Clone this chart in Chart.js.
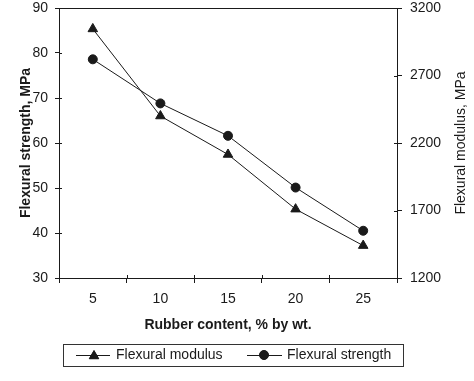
<!DOCTYPE html>
<html>
<head>
<meta charset="utf-8">
<script src="https://cdn.jsdelivr.net/npm/chart.js@4/dist/chart.umd.min.js"></script>
<style>
html,body{margin:0;padding:0;background:#fff;}
#wrap{width:474px;height:381px;position:relative;}
</style>
</head>
<body>
<div id="wrap"><canvas id="c" width="474" height="381"></canvas></div>
<script>
const categories = ['5', '10', '15', '20', '25'];
const flexuralModulus = [3045, 2400, 2115, 1710, 1440];
const flexuralStrength = [78.6, 68.8, 61.6, 50.1, 40.5];
const leftTitle = 'Flexural strength, MPa';
const rightTitle = 'Flexural modulus, MPa';
const xTitle = 'Rubber content, % by wt.';
const seriesNames = ['Flexural modulus', 'Flexural strength'];

const FONT = 'Arial, "Liberation Sans", Helvetica, sans-serif';
const INK = '#1a1a1a';

const extras = {
  id: 'extras',
  afterDraw(chart) {
    const ctx = chart.ctx;
    const a = chart.chartArea;
    ctx.save();
    ctx.strokeStyle = INK;
    ctx.lineWidth = 1;
    // top border
    ctx.beginPath();
    ctx.moveTo(a.left, Math.round(a.top) + 0.5);
    ctx.lineTo(a.right, Math.round(a.top) + 0.5);
    ctx.stroke();
    // inside tick marks
    const ys = chart.scales.y, y1 = chart.scales.y1;
    ctx.beginPath();
    ys.ticks.forEach((t, i) => { const p = Math.round(ys.getPixelForTick(i)) + 0.5; ctx.moveTo(a.left, p); ctx.lineTo(a.left + 3, p); });
    y1.ticks.forEach((t, i) => { const p = Math.round(y1.getPixelForTick(i)) + 0.5; ctx.moveTo(a.right, p); ctx.lineTo(a.right - 3, p); });
    for (let i = 0; i <= categories.length; i++) {
      const p = Math.round(a.left + (a.right - a.left) * i / categories.length) + 0.5;
      ctx.moveTo(p, a.bottom); ctx.lineTo(p, a.bottom - 3);
    }
    ctx.stroke();
    // right title (reads bottom to top)
    ctx.fillStyle = INK;
    ctx.font = '14px ' + FONT;
    ctx.textAlign = 'center';
    ctx.textBaseline = 'middle';
    ctx.translate(461, (a.top + a.bottom) / 2);
    ctx.rotate(-Math.PI / 2);
    ctx.fillText(rightTitle, 0, 0);
    ctx.restore();

    // legend
    ctx.save();
    const bx = 63, by = 344, bw = 340, bh = 22, cy = 355;
    ctx.strokeStyle = '#333';
    ctx.lineWidth = 1;
    ctx.strokeRect(bx + 0.5, by + 0.5, bw, bh);
    ctx.strokeStyle = INK;
    ctx.fillStyle = INK;
    const items = [
      {x0: 76, x1: 110, mx: 94, tx: 116, style: 'triangle', r: 5.5, label: seriesNames[0]},
      {x0: 247, x1: 282, mx: 264, tx: 287, style: 'circle', r: 4.5, label: seriesNames[1]}
    ];
    items.forEach(it => {
      ctx.beginPath();
      ctx.moveTo(it.x0, cy + 0.5); ctx.lineTo(it.x1, cy + 0.5);
      ctx.stroke();
      Chart.helpers.drawPoint(ctx, {pointStyle: it.style, radius: it.r, borderWidth: 1, rotation: 0}, it.mx, cy + (it.style === 'triangle' ? 1 : 0));
      ctx.fill();
      ctx.font = '14px ' + FONT;
      ctx.textAlign = 'left';
      ctx.textBaseline = 'middle';
      ctx.fillText(it.label, it.tx, cy);
    });
    ctx.restore();
  }
};

new Chart(document.getElementById('c'), {
  type: 'line',
  data: {
    labels: categories,
    datasets: [
      {
        label: seriesNames[0], data: flexuralModulus, yAxisID: 'y1',
        borderColor: INK, backgroundColor: INK, borderWidth: 1,
        pointStyle: 'triangle', pointRadius: 5.5, pointBorderWidth: 1,
        pointBackgroundColor: INK, pointBorderColor: INK, tension: 0
      },
      {
        label: seriesNames[1], data: flexuralStrength, yAxisID: 'y',
        borderColor: INK, backgroundColor: INK, borderWidth: 1,
        pointStyle: 'circle', pointRadius: 4.5, pointBorderWidth: 1,
        pointBackgroundColor: INK, pointBorderColor: INK, tension: 0
      }
    ]
  },
  options: {
    responsive: false,
    animation: false,
    devicePixelRatio: 1,
    layout: {padding: {top: 8, left: 0, right: 0, bottom: 47}},
    plugins: {legend: {display: false}, tooltip: {enabled: false}},
    scales: {
      x: {
        type: 'category', offset: true,
        grid: {display: true, drawOnChartArea: false, drawTicks: true, tickLength: 5, color: INK, offset: true},
        border: {display: true, color: INK, width: 1},
        ticks: {color: INK, font: {family: FONT, size: 14}, padding: 8, maxRotation: 0},
        title: {display: true, text: xTitle, color: INK, font: {family: FONT, size: 14, weight: 'bold'}, padding: {top: 0, bottom: 0}},
        afterFit(s) { s.height = 56; s.paddingLeft = 0; s.paddingRight = 0; }
      },
      y: {
        position: 'left', min: 30, max: 90,
        ticks: {stepSize: 10, color: INK, font: {family: FONT, size: 14}, padding: 7},
        grid: {display: true, drawOnChartArea: false, tickLength: 4, color: INK},
        border: {display: true, color: INK, width: 1},
        title: {display: true, text: leftTitle, color: INK, font: {family: FONT, size: 14, weight: 'bold'}, padding: {top: 18, bottom: 0}},
        afterFit(s) { s.width = 59; s.paddingTop = 0; s.paddingBottom = 0; }
      },
      y1: {
        position: 'right', min: 1200, max: 3200,
        ticks: {stepSize: 500, color: INK, font: {family: FONT, size: 14}, padding: 8, callback: v => String(v)},
        grid: {display: true, drawOnChartArea: false, tickLength: 5, color: INK},
        border: {display: true, color: INK, width: 1},
        title: {display: false},
        afterFit(s) { s.width = 77; s.paddingTop = 0; s.paddingBottom = 0; }
      }
    }
  },
  plugins: [extras]
});
</script>
</body>
</html>
